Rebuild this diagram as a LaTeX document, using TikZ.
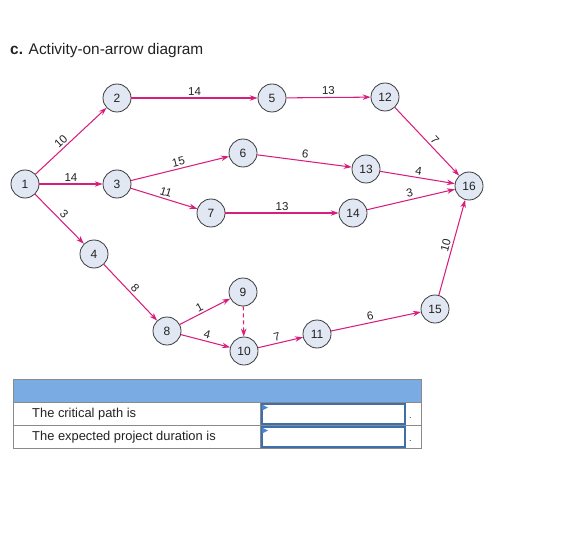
\documentclass[tikz,border=0pt]{standalone}
\usepackage{fontspec}
\setmainfont{Liberation Sans}
\usetikzlibrary{arrows.meta}
\definecolor{arrowc}{HTML}{D81E7C}
\definecolor{nodefill}{HTML}{E2E8F3}
\definecolor{nodeline}{HTML}{3A3A3A}
\definecolor{headblue}{HTML}{7AACE3}
\definecolor{tabline}{HTML}{8A8A8A}
\definecolor{boxline}{HTML}{3F6FAA}
\definecolor{markc}{HTML}{4A86D0}
\definecolor{textc}{HTML}{222222}
\tikzset{
  evt/.style={circle, draw=nodeline, fill=nodefill, line width=0.8pt, minimum size=28pt, inner sep=0pt, text=textc, font=\fontsize{12}{14}\selectfont},
  act/.style={draw=arrowc, line width=1.05pt, -{Stealth[length=8pt,width=5.5pt]}},
  dum/.style={act, dash pattern=on 4pt off 3pt},
  lab/.style={sloped, above, inner sep=2pt, text=textc, font=\fontsize{11.5}{13}\selectfont},
  tabtxt/.style={anchor=west, inner sep=0pt, text=textc, font=\fontsize{12.9}{15}\selectfont},
}
\begin{document}
\begin{tikzpicture}[x=1pt,y=-1pt]
\useasboundingbox (0,0) rectangle (577,545);
\node[anchor=base west, inner sep=0pt, text=textc, font=\fontsize{15.4}{18}\selectfont] (title) at (10,55) {\textbf{c.} Activity-on-arrow diagram};
% events
\node[evt] (n1) at (25,184) {1};
\node[evt] (n2) at (117,98) {2};
\node[evt] (n3) at (117,184) {3};
\node[evt] (n4) at (94,254) {4};
\node[evt] (n5) at (272,98) {5};
\node[evt] (n6) at (243,153) {6};
\node[evt] (n7) at (211,213) {7};
\node[evt] (n8) at (167,331) {8};
\node[evt] (n9) at (243,292) {9};
\node[evt] (n10) at (244,351) {10};
\node[evt] (n11) at (317,334) {11};
\node[evt] (n12) at (385,97) {12};
\node[evt] (n13) at (366,169) {13};
\node[evt] (n14) at (353,213) {14};
\node[evt] (n15) at (435,309) {15};
\node[evt] (n16) at (469,186) {16};
% activities
\draw[act] (n1) -- node[lab, pos=0.42] {10} (n2);
\draw[act] (n1) -- node[lab] {14} (n3);
\draw[act] (n1) -- node[lab] {3} (n4);
\draw[act] (n2) -- node[lab] {14} (n5);
\draw[act] (n5) -- node[lab] {13} (n12);
\draw[act] (n3) -- node[lab] {15} (n6);
\draw[act] (n3) -- node[lab] {11} (n7);
\draw[act] (n6) -- node[lab] {6} (n13);
\draw[act] (n7) -- node[lab] {13} (n14);
\draw[act] (n12) -- node[lab, pos=0.55] {7} (n16);
\draw[act] (n13) -- node[lab] {4} (n16);
\draw[act] (n14) -- node[lab] {3} (n16);
\draw[act] (n4) -- node[lab] {8} (n8);
\draw[act] (n8) -- node[lab, pos=0.45] {1} (n9);
\draw[act] (n8) -- node[lab] {4} (n10);
\draw[dum] (n9) -- (n10);
\draw[act] (n10) -- node[lab, pos=0.45] {7} (n11);
\draw[act] (n11) -- node[lab, pos=0.45] {6} (n15);
\draw[act] (n15) -- node[lab] {10} (n16);
% table
\fill[headblue] (13,379) rectangle (421,402);
\draw[tabline, line width=1pt] (13,379) rectangle (421,448);
\draw[tabline, line width=1pt] (13,402) -- (421,402);
\draw[tabline, line width=1pt] (13,425) -- (421,425);
\draw[tabline, line width=1pt] (260,402) -- (260,448);
\draw[boxline, line width=1.5pt] (262,404) rectangle (405,424);
\draw[boxline, line width=1.5pt] (262,427) rectangle (405,447);
\fill[markc] (262,404.5) -- (268,407.5) -- (262,410.5) -- cycle;
\fill[markc] (262,427.5) -- (268,430.5) -- (262,433.5) -- cycle;
\node[tabtxt] (q1) at (32,414) {The critical path is};
\node[tabtxt] (q2) at (32,437) {The expected project duration is};
\node[tabtxt, font=\fontsize{9}{10}\selectfont] (d1) at (409,418) {.};
\node[tabtxt, font=\fontsize{9}{10}\selectfont] (d2) at (409,441) {.};
\end{tikzpicture}
\end{document}
